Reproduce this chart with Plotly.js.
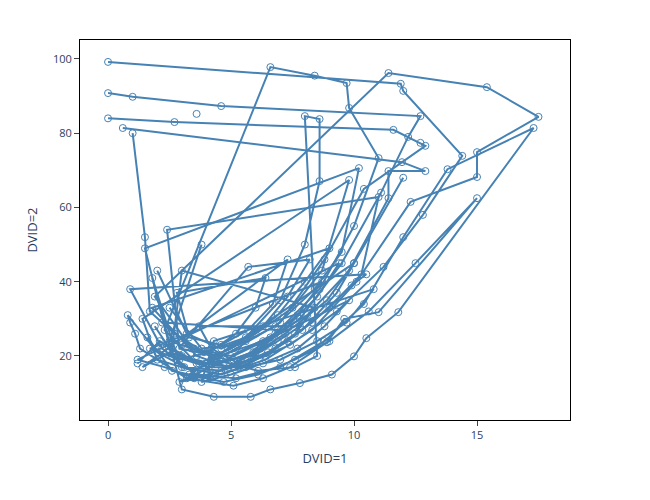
<!DOCTYPE html>
<html>
<head>
<meta charset="utf-8">
<script src="https://cdn.plot.ly/plotly-3.0.1.min.js"></script>
<style>html,body{margin:0;padding:0;background:#fff;}#chart{width:650px;height:500px;}</style>
</head>
<body>
<div id="chart"></div>
<script>
// DVID=1 (x) and DVID=2 (y) observations, in record order; null = gap between records
const dvid1 = [
 0,11.9,12.0,14.4,12.8,11.2,9.3,7.4,5.3,3.6,2.3,
 6.6,8.4,9.7,9.8,11.0,10.0,8.6,6.8,5.0,3.4,1.9,
 11.4,15.4,17.5,15.0,15.0,12.3,10.1,8.3,6.4,4.6,3.0,1.9,
 null,
 0,1.0,4.6,12.7,12.2,11.1,9.5,7.8,5.9,4.1,2.6,1.5,
 10.2,9.5,8.4,6.8,5.3,3.8,2.5,
 null,
 0,2.7,11.6,12.7,12.9,10.4,8.8,7.0,5.2,3.5,2.0,1.4,
 9.8,8.7,7.5,6.0,4.6,3.2,2.0,
 null,
 0.6,11.95,12.9,11.4,11.4,9.8,8.1,6.3,4.5,2.9,2.4,
 11.0,10.3,9.0,7.3,5.5,4.0,2.6,1.6,
 null,
 1.0,1.5,1.7,2.7,4.4,6.1,7.6,8.5,
 8.0,8.6,8.6,8.0,7.0,5.6,3.9,2.5,3.8,
 null,3.6,null,
 12.0,10.0,8.9,7.2,5.8,4.2,2.8,1.8,
 3.0,4.3,5.8,6.6,7.8,9.1,10.0,10.5,11.8,
 17.3,13.8,12.0,10.4,8.8,7.0,5.2,3.6,2.2,0.9,
 10.5,9.9,8.3,6.8,5.1,3.5,2.3,1.2,
 9.4,8.5,7.3,6.0,4.6,3.1,2.0,0.8,0.9,1.1,1.3,
 3.2,5.1,6.3,7.4,8.9,9.6,11.0,
 15.0,12.5,10.6,9.0,7.6,6.1,4.7,3.3,
 10.0,9.3,7.9,6.4,4.9,3.6,1.8,
 9.0,8.0,6.9,5.6,4.3,3.0,5.7,
 8.2,7.3,6.3,5.0,3.7,2.5,1.4,
 7.3,6.7,5.7,4.6,3.3,2.8,
 6.4,6.0,5.2,4.1,2.9,1.7,
 8.7,7.7,6.6,5.4,4.2,2.9,
 9.8,8.8,7.7,6.3,5.0,3.8,4.3,
 10.8,9.7,8.5,7.0,5.6,4.0,2.6,3.0,
 8.4,7.6,6.5,5.3,4.2,3.7,
 7.8,6.9,5.9,4.8,3.5,2.2,
 6.9,6.2,5.1,4.0,3.0,2.1,1.2
];
const dvid2 = [
 99.2,93.3,91.4,73.9,58,44,32,23,17,18,27,
 97.8,95.5,93.5,86.8,73.3,55,38,26,20,22,36,
 96.2,92.4,84.4,74.9,68.2,61.5,40,27,19,15,17,28,
 null,
 90.8,89.8,87.3,84.6,79,64,45,30,21,17,20,49,
 70.6,48,38,28,23,22,33,
 null,
 84,83,80.9,77.4,76.6,65,46,29,22,16,19,30,
 67.4,43,33,26,22,26,43,
 null,
 81.4,72.2,69.8,69.8,62.5,43,31,24,20,22,54,
 62.8,42,33,24,17,14,16,25,
 null,
 80,52,32,26,19,16,17,20,
 84.6,83.8,67.1,50,35,25,21,24,50,
 null,85.2,null,
 68,45,35,26,20,18,20,41,
 11,9,9,11,12.7,15,19.9,24.8,31.8,
 81.4,70.3,52,34,24,17,14,15,22,38,
 42,39,29,22,17,14,17,19,
 45,36,28,21,16,17,21,31,29,26,22,
 14,12,14,17,23.7,30,31.8,
 62.5,45,32,24,19,15,13,15,
 45,37,27,20,17,20,33,
 49,40,31,24,20,23,44,
 46,36,28,22,18,21,17,
 46,34,27,23,25,37,
 41,33,26,21,19,22,
 40,31,25,19,15,13,
 35,28,22,18,15,13,24,
 38,29,24,19,17,17,22,43,
 33,26,21,18,22,28,
 28,24,20,19,22,29,
 27,22,19,18,20,24,18
];

const trace = {
  x: dvid1, y: dvid2,
  type: 'scatter', mode: 'lines+markers',
  connectgaps: false,
  line: {color: '#4682b4', width: 2},
  marker: {symbol: 'circle-open', size: 7, color: '#4682b4', line: {width: 1}},
  showlegend: false
};

const axisCommon = {
  showgrid: false, zeroline: false,
  showline: true, mirror: true, linecolor: '#000', linewidth: 1,
  ticks: 'outside', ticklen: 5, tickcolor: '#444',
  tickfont: {family: '"Open Sans", Verdana, Arial, sans-serif', size: 11, color: '#2a3f5f'}
};

const layout = {
  width: 650, height: 500,
  margin: {l: 80, r: 80, t: 40, b: 80},
  paper_bgcolor: '#fff', plot_bgcolor: '#fff',
  font: {family: '"Open Sans", Verdana, Arial, sans-serif', color: '#2a3f5f'},
  xaxis: Object.assign({}, axisCommon, {
    range: [-1.14, 18.78], tickvals: [0, 5, 10, 15],
    title: {text: 'DVID=1', standoff: 12, font: {size: 13, color: '#2a3f5f'}}
  }),
  yaxis: Object.assign({}, axisCommon, {
    range: [2.76, 105.1], tickvals: [20, 40, 60, 80, 100],
    title: {text: 'DVID=2', standoff: 12, font: {size: 13, color: '#2a3f5f'}}
  })
};

Plotly.newPlot('chart', [trace], layout, {displayModeBar: false});
</script>
</body>
</html>
